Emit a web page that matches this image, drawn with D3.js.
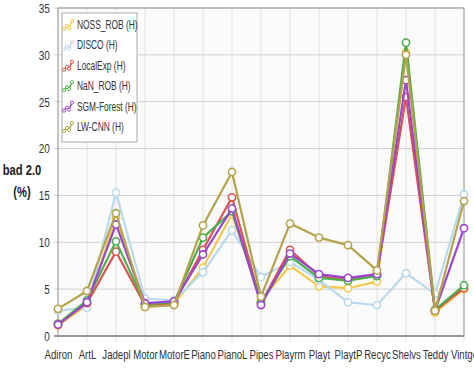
<!DOCTYPE html>
<html><head><meta charset="utf-8">
<script src="https://cdn.jsdelivr.net/npm/d3@7"></script>
<style>
html,body{margin:0;padding:0;background:#fff;}
svg{display:block;font-family:"Liberation Sans",Arial,sans-serif;}
</style></head>
<body>
<svg id="chart" width="474" height="368"></svg>
<script>
const categories = ["Adiron","ArtL","Jadepl","Motor","MotorE","Piano","PianoL","Pipes","Playrm","Playt","PlaytP","Recyc","Shelvs","Teddy","Vintge"];
const seriesNames = ["NOSS_ROB (H)","DISCO (H)","LocalExp (H)","NaN_ROB (H)","SGM-Forest (H)","LW-CNN (H)"];
const colors = ["#f2c94c","#b9d9ef","#d9534f","#4cae4c","#9b45d0","#b3a34a"];
const nossRob   = [1.1, 3.3, 12.6, 3.1, 3.4, 7.3, 13.0, 3.8, 7.5, 5.3, 5.1, 5.8, 30.3, 2.5, 5.0];
const disco     = [2.7, 3.0, 15.3, 4.0, 3.8, 6.8, 11.3, 6.3, 7.9, 6.0, 3.6, 3.3, 6.7, 4.5, 15.1];
const localExp  = [1.3, 3.5, 9.0, 3.3, 3.5, 9.2, 14.8, 3.5, 9.2, 6.4, 6.0, 6.5, 25.5, 2.7, 5.1];
const nanRob    = [1.3, 3.8, 10.1, 3.4, 3.6, 10.5, 13.3, 3.6, 8.5, 6.2, 5.9, 6.4, 31.3, 2.8, 5.4];
const sgmForest = [1.2, 3.6, 11.9, 3.5, 3.7, 8.7, 13.6, 3.3, 8.8, 6.6, 6.2, 6.6, 27.3, 2.7, 11.5];
const lwCnn     = [2.9, 4.8, 13.1, 3.1, 3.3, 11.8, 17.5, 4.2, 12.0, 10.5, 9.7, 7.0, 30.0, 2.7, 14.4];
const yTicks = [0,5,10,15,20,25,30,35];
const allSeries = [nossRob, disco, localExp, nanRob, sgmForest, lwCnn];

const svg = d3.select("#chart");
const m = {l:58, r:464, t:8, b:336};
const x = d3.scalePoint().domain(categories).range([m.l, m.r]).padding(0);
const y = d3.scaleLinear().domain([0,35]).range([m.b, m.t]);
const NARROW = 0.74;

// plot background
svg.append("rect").attr("x",m.l).attr("y",m.t).attr("width",m.r-m.l).attr("height",m.b-m.t).attr("fill","#fbfbfb");

// grid
svg.append("g").selectAll("line").data(categories).join("line")
  .attr("x1",d=>x(d)).attr("x2",d=>x(d)).attr("y1",m.t).attr("y2",m.b+6)
  .attr("stroke","#e2e2e2").attr("stroke-width",1);
svg.append("g").selectAll("line").data(yTicks).join("line")
  .attr("x1",m.l-4).attr("x2",m.r).attr("y1",d=>y(d)).attr("y2",d=>y(d))
  .attr("stroke",d=>d===0?"#777":"#d0d0d0").attr("stroke-width",d=>d===0?1.5:1);
// frame
svg.append("rect").attr("x",m.l).attr("y",m.t).attr("width",m.r-m.l).attr("height",m.b-m.t)
  .attr("fill","none").attr("stroke","#999").attr("stroke-width",1);

// y axis labels
const yAxis = d3.axisLeft(y).tickValues(yTicks).tickSize(0).tickPadding(11);
const ya = svg.append("g").attr("transform",`translate(${m.l},0)`).call(yAxis);
ya.select(".domain").remove();
ya.selectAll("text").attr("font-size",13.5).attr("fill","#333").attr("font-family","'Liberation Sans',Arial,sans-serif")
  .attr("transform",`scale(${NARROW},1)`);

// x axis labels
const xAxis = d3.axisBottom(x).tickSize(0).tickPadding(14);
const xa = svg.append("g").attr("transform",`translate(0,${m.b})`).call(xAxis);
xa.select(".domain").remove();
xa.selectAll("text").attr("font-size",13).attr("fill","#333").attr("font-family","'Liberation Sans',Arial,sans-serif")
  .attr("transform",`scale(${NARROW},1)`);

// y title
const yt = svg.append("g").attr("transform","translate(22,0) scale(0.8,1)")
  .append("text").attr("text-anchor","middle").attr("font-weight","bold").attr("font-size",14).attr("fill","#222");
yt.append("tspan").attr("x",0).attr("y",175).text("bad 2.0");
yt.append("tspan").attr("x",0).attr("y",197).text("(%)");

// lines
const line = d3.line().x((d,i)=>x(categories[i])).y(d=>y(d));
allSeries.forEach((s,k)=>{
  const g = svg.append("g");
  g.append("path").datum(s).attr("d",line).attr("fill","none")
    .attr("stroke",colors[k]).attr("stroke-width",2.2).attr("stroke-linejoin","round");
  g.selectAll("circle").data(s).join("circle")
    .attr("cx",(d,i)=>x(categories[i])).attr("cy",d=>y(d)).attr("r",3.6)
    .attr("fill","#fff").attr("stroke",colors[k]).attr("stroke-width",1.6);
});

// legend
const lg = svg.append("g");
lg.append("rect").attr("x",62).attr("y",13).attr("width",75).attr("height",129)
  .attr("fill","#fff").attr("stroke","#aaa").attr("stroke-width",1);
seriesNames.forEach((n,k)=>{
  const cy = 25 + k*20.4;
  const pts = [[64,cy+4],[67,cy+1],[69,cy+3],[72,cy-4]];
  lg.append("path").attr("d",d3.line()(pts)).attr("fill","none").attr("stroke",colors[k]).attr("stroke-width",1.4);
  pts.forEach(p=>lg.append("circle").attr("cx",p[0]).attr("cy",p[1]).attr("r",1.6).attr("fill","#fff").attr("stroke",colors[k]).attr("stroke-width",1));
  lg.append("g").attr("transform",`translate(77,${cy+4}) scale(0.7,1)`)
    .append("text").attr("x",0).attr("y",0).attr("font-size",12).attr("fill","#333").text(n);
});
</script>
</body></html>
